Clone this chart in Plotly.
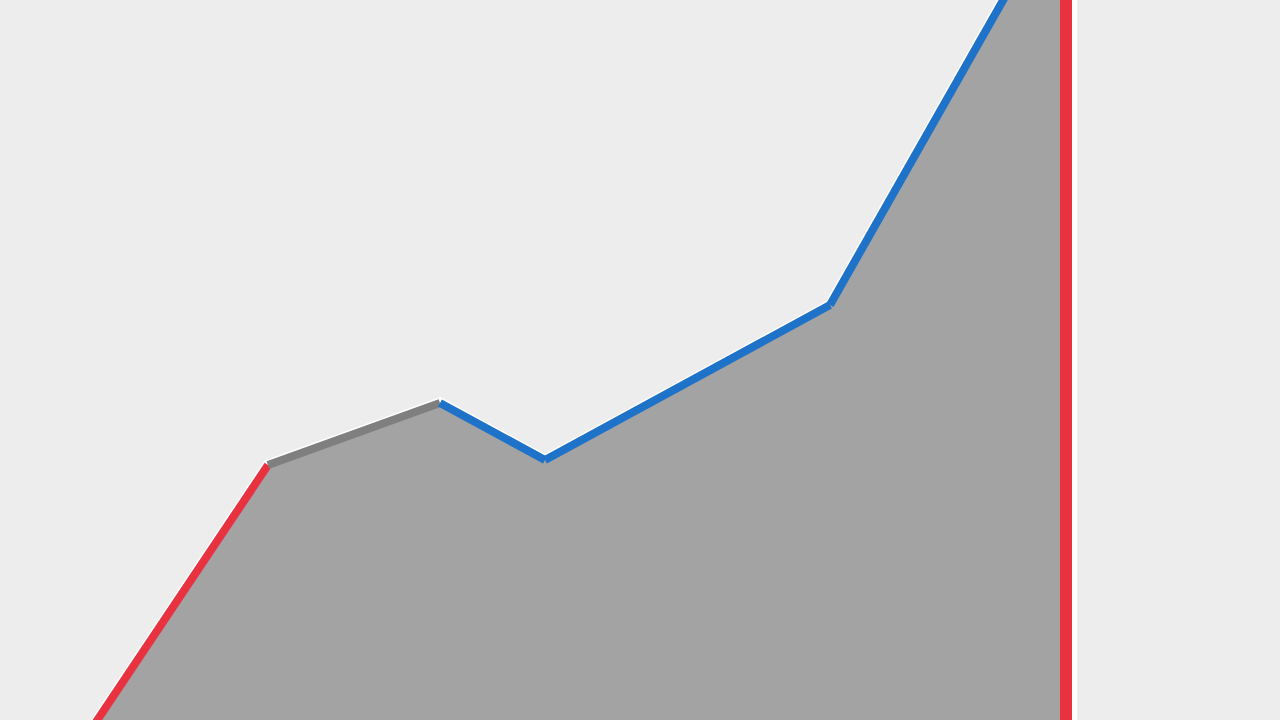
import plotly.graph_objects as go

# curve points (x, height above bottom edge)
px_x = [84, 268, 440, 545, 830, 1060]
px_y = [-20, 255, 317, 260, 415, 820]

# which colour each segment gets
seg_colors = ["#e8323f", "#7f7f7f", "#1e72c8", "#1e72c8", "#1e72c8"]

# vertical marker on the right
edge_x = [1066, 1066]
edge_y = [820, -20]
halo_x = [1073, 1073]

fig = go.Figure()

# white halo under the curve
fig.add_trace(go.Scatter(x=px_x, y=px_y, mode="lines",
                         line=dict(color="#ffffff", width=11), hoverinfo="skip"))
fig.add_trace(go.Scatter(x=halo_x, y=edge_y, mode="lines",
                         line=dict(color="#ffffff", width=8), hoverinfo="skip"))

# grey area
fig.add_trace(go.Scatter(x=px_x, y=px_y, mode="lines", fill="tozeroy",
                         fillcolor="#a3a3a3", line=dict(width=0), hoverinfo="skip"))

# coloured segments
for i, c in enumerate(seg_colors):
    fig.add_trace(go.Scatter(x=px_x[i:i + 2], y=px_y[i:i + 2], mode="lines",
                             line=dict(color=c, width=8)))

fig.add_trace(go.Scatter(x=edge_x, y=edge_y, mode="lines",
                         line=dict(color="#e8323f", width=12)))

fig.update_layout(width=1280, height=720, showlegend=False,
                  margin=dict(l=0, r=0, t=0, b=0),
                  paper_bgcolor="#ededed", plot_bgcolor="#ededed")
fig.update_xaxes(range=[0, 1280], visible=False)
fig.update_yaxes(range=[0, 720], visible=False)

fig.write_html("out.html", config={"displayModeBar": False},
               post_script="document.body.style.margin='0';"
                           "document.documentElement.style.overflow='hidden';")
